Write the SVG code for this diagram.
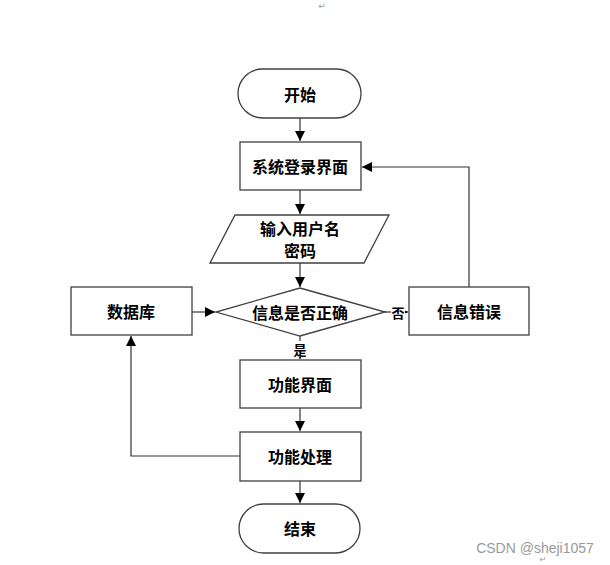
<svg xmlns="http://www.w3.org/2000/svg" width="610" height="565" viewBox="0 0 610 565">
<style>
.s{fill:#fff;stroke:#404040;stroke-width:1.3}
.t{font-family:"Noto Sans CJK SC","Noto Sans CJK JP",sans-serif;font-size:16px;font-weight:bold;fill:#000;text-anchor:middle;dominant-baseline:central}
.l{font-family:"Noto Sans CJK SC",sans-serif;font-size:13px;font-weight:bold;fill:#000;text-anchor:middle;dominant-baseline:central}
.c{fill:none;stroke:#333;stroke-width:1.2}
</style>
<defs>
<marker id="a" viewBox="0 0 10 10" refX="10" refY="5" markerWidth="10" markerHeight="10" markerUnits="userSpaceOnUse" orient="auto">
<path d="M0,0L10,5L0,10z" fill="#000"/>
</marker>
</defs>
<rect width="610" height="565" fill="#fff"/>
<g id="connectors">
<path class="c" d="M300,118V141" marker-end="url(#a)"/>
<path class="c" d="M300,190V214" marker-end="url(#a)"/>
<path class="c" d="M300,263V287" marker-end="url(#a)"/>
<path class="c" d="M192,312H215" marker-end="url(#a)"/>
<path class="c" d="M385,312H408" marker-end="url(#a)"/>
<path class="c" d="M469,287V167H362" marker-end="url(#a)"/>
<path class="c" d="M300,336V359" marker-end="url(#a)"/>
<path class="c" d="M300,408V431" marker-end="url(#a)"/>
<path class="c" d="M240,456H131V336" marker-end="url(#a)"/>
<path class="c" d="M300,481V503" marker-end="url(#a)"/>
</g>
<g id="start"><rect class="s" x="238" y="69" width="123" height="49" rx="24.5"/><text class="t" x="300" y="94">开始</text></g>
<g id="login"><rect class="s" x="240" y="142" width="121" height="48"/><text class="t" x="300" y="166">系统登录界面</text></g>
<g id="input"><path class="s" d="M235,215H389L364,263H210Z"/><text class="t" x="300" y="228">输入用户名</text><text class="t" x="300" y="250">密码</text></g>
<g id="check"><path class="s" d="M300,288L385,312L300,336L216,312Z"/><text class="t" x="300" y="312">信息是否正确</text></g>
<g id="db"><rect class="s" x="71" y="287" width="121" height="48"/><text class="t" x="131" y="311">数据库</text></g>
<g id="error"><rect class="s" x="409" y="287" width="120" height="48"/><text class="t" x="469" y="311">信息错误</text></g>
<rect x="391" y="303" width="14" height="17" fill="#fff"/>
<text class="l" x="398" y="312">否</text>
<rect x="293" y="341" width="15" height="16" fill="#fff"/>
<text class="l" x="300" y="349">是</text>
<g id="func"><rect class="s" x="240" y="360" width="121" height="48"/><text class="t" x="300" y="384">功能界面</text></g>
<g id="proc"><rect class="s" x="240" y="432" width="121" height="49"/><text class="t" x="300" y="456">功能处理</text></g>
<g id="end"><rect class="s" x="239" y="504" width="121" height="49" rx="24.5"/><text class="t" x="300" y="528">结束</text></g>
<text x="322" y="9" font-family="DejaVu Sans,sans-serif" font-size="9" fill="#999" text-anchor="middle">↵</text>
<text x="543" y="562" font-family="DejaVu Sans,sans-serif" font-size="8" fill="#999" text-anchor="middle">↵</text>
<text x="535" y="553" font-family="Liberation Sans,Arial,sans-serif" font-size="14" fill="#999" text-anchor="middle">CSDN @sheji1057</text>
</svg>
